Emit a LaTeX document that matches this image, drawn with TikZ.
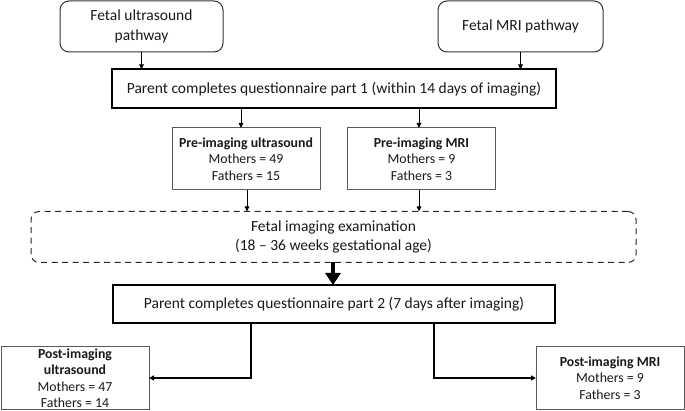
\documentclass[tikz,border=0pt]{standalone}
\usepackage{fontspec}
\setmainfont{Carlito}
\usetikzlibrary{arrows.meta}
\begin{document}
\begin{tikzpicture}[x=1pt,y=-1pt,
  every node/.style={inner sep=0pt, outer sep=0pt, align=center, text=black!90, font=\fontsize{15.5}{18.5}\selectfont},
  topbox/.style={draw=black!80, line width=1pt, rounded corners=9pt},
  qbox/.style={draw=black, line width=2pt},
  databox/.style={draw=black!65, line width=1pt, font=\fontsize{13.8}{16.5}\selectfont},
  dashbox/.style={draw=black!85, line width=1pt, dash pattern=on 6pt off 4.5pt, rounded corners=8pt},
  arr/.style={draw=black, line width=1pt, -{Triangle[length=5pt,width=4.5pt]}},
  arrb/.style={draw=black, line width=1.6pt, -{Triangle[length=5pt,width=5pt]}},
  bigarr/.style={draw=black, line width=3.5pt, -{Triangle[length=12pt,width=15pt]}}
]
\useasboundingbox (0,0) rectangle (685,411);
\node[topbox, minimum width=163pt, minimum height=51pt, font=\fontsize{15.5}{20}\selectfont] (A) at (141.5,26.5) {Fetal ultrasound\\pathway};
\node[topbox, minimum width=165pt, minimum height=51pt] (B) at (520.5,26.5) {Fetal MRI pathway};
\node[qbox, minimum width=444pt, minimum height=39pt] (Q1) at (334,89) {Parent completes questionnaire part 1 (within 14 days of imaging)};
\node[databox, minimum width=148pt, minimum height=62pt] (PUS) at (246,159) {\textbf{Pre-imaging ultrasound}\\Mothers = 49\\Fathers = 15};
\node[databox, minimum width=148pt, minimum height=62pt] (PMRI) at (421.5,159) {\textbf{Pre-imaging MRI}\\Mothers = 9\\Fathers = 3};
\node[dashbox, minimum width=605pt, minimum height=51pt] (EX) at (333.5,237) {Fetal imaging examination\\(18 -- 36 weeks gestational age)};
\node[qbox, minimum width=442pt, minimum height=38pt] (Q2) at (334,304) {Parent completes questionnaire part 2 (7 days after imaging)};
\node[databox, minimum width=148pt, minimum height=62pt] (OUS) at (75,378) {\textbf{Post-imaging}\\\textbf{ultrasound}\\Mothers = 47\\Fathers = 14};
\node[databox, minimum width=148pt, minimum height=62pt] (OMRI) at (610,378) {\textbf{Post-imaging MRI}\\Mothers = 9\\Fathers = 3};
\draw[arr] (A.south) -- (A.south |- Q1.north);
\draw[arr] (B.south) -- (B.south |- Q1.north);
\draw[arr] ([xshift=-5pt]PUS.north |- Q1.south) -- ([xshift=-5pt]PUS.north);
\draw[arr] ([xshift=-2.5pt]PMRI.north |- Q1.south) -- ([xshift=-2.5pt]PMRI.north);
\draw[arr] ([xshift=1pt]PUS.south) -- ([xshift=1pt]PUS.south |- EX.north);
\draw[arr] ([xshift=-2.5pt]PMRI.south) -- ([xshift=-2.5pt]PMRI.south |- EX.north);
\draw[bigarr] ([xshift=-0.5pt]EX.south) -- ([xshift=-0.5pt]EX.south |- Q2.north);
\draw[arrb] ([xshift=-83pt]Q2.south) |- (OUS.east);
\draw[arrb] ([xshift=100pt]Q2.south) |- (OMRI.west);
\end{tikzpicture}
\end{document}
